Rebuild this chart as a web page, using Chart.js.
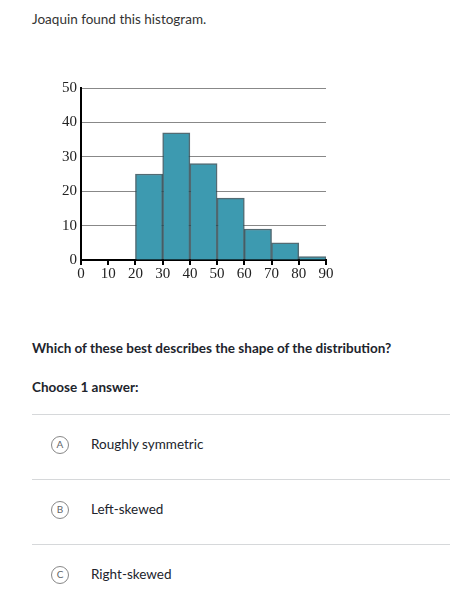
<!DOCTYPE html><html><head><meta charset="utf-8">
<script src="https://cdn.jsdelivr.net/npm/chart.js@4"></script>
<style>
body{margin:0;width:450px;height:605px;font-family:Lato,sans-serif;color:#21242c;background:#fff;position:relative}
.t{position:absolute;font-size:13.5px}
.hr{position:absolute;left:32px;width:418px;border-top:1px solid #d6d8da}
.c{position:absolute;left:51px;width:18px;height:18px;border:1.5px solid #888;border-radius:50%;font-size:10px;text-align:center;line-height:15px;color:#626569;box-sizing:border-box}
</style></head><body>
<div class="t" style="left:32px;top:11px;color:#333">Joaquin found this histogram.</div>
<div style="position:absolute;left:40px;top:75px;width:300px;height:215px"><canvas id="c"></canvas></div>
<div class="t" style="left:32px;top:340px;font-weight:bold">Which of these best describes the shape of the distribution?</div>
<div class="t" style="left:32px;top:379px;font-weight:bold">Choose 1 answer:</div>
<div class="hr" style="top:414px"></div>
<div class="c" style="top:436px">A</div><div class="t" style="left:91px;top:436px">Roughly symmetric</div>
<div class="hr" style="top:479px"></div>
<div class="c" style="top:501px">B</div><div class="t" style="left:91px;top:501px">Left-skewed</div>
<div class="hr" style="top:544px"></div>
<div class="c" style="top:566px">C</div><div class="t" style="left:91px;top:566px">Right-skewed</div>
<script>
const binCenters=[5,15,25,35,45,55,65,75,85];
const counts=[0,0,25,37,28,18,9,5,1];
const xTicks=[0,10,20,30,40,50,60,70,80,90];
new Chart(document.getElementById('c'),{type:'bar',
data:{datasets:[{data:binCenters.map((x,i)=>({x,y:counts[i]})),backgroundColor:'#3d9ab0',borderColor:'rgba(40,70,80,0.8)',borderWidth:1.5,barPercentage:1,categoryPercentage:1,borderSkipped:'bottom'}]},
options:{responsive:true,maintainAspectRatio:false,animation:false,layout:{padding:{top:13,right:14}},
plugins:{legend:{display:false},tooltip:{enabled:false}},
scales:{x:{type:'linear',offset:false,min:0,max:90,afterBuildTicks:s=>{s.ticks=xTicks.map(v=>({value:v}))},afterFit:s=>{s.height=30},
grid:{display:true,offset:false,drawOnChartArea:false,color:'#000',lineWidth:2,tickLength:5},border:{color:'#000',width:2},
ticks:{color:'#222',font:{family:'Liberation Serif',size:15},padding:0}},
y:{min:0,max:50,ticks:{stepSize:10,color:'#222',font:{family:'Liberation Serif',size:15},padding:4},afterFit:s=>{s.width=41},
grid:{color:'#888',drawTicks:false},border:{color:'#000',width:2}}}}});
</script></body></html>
